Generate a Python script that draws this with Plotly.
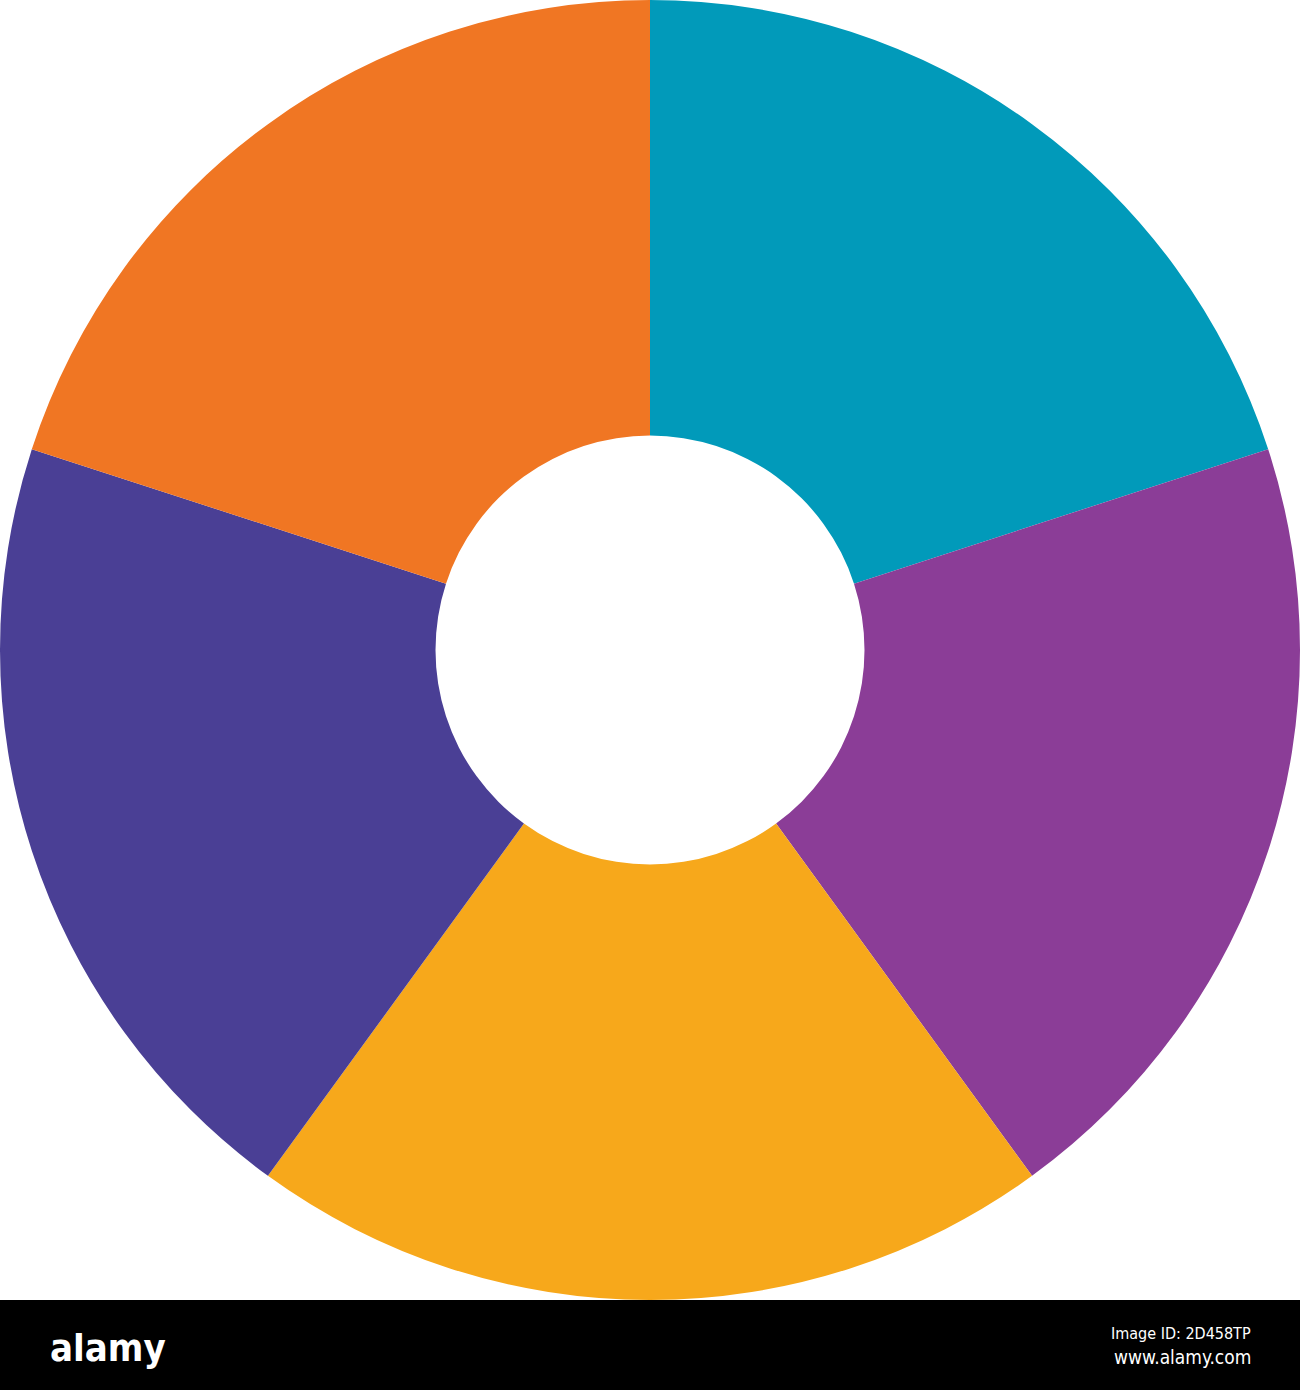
import plotly.graph_objects as go

# five equal segments, clockwise from 12 o'clock
segments = ["A", "B", "C", "D", "E"]
shares = [20, 20, 20, 20, 20]
colors = ["#019ABA", "#8B3D97", "#F7A81B", "#4A3F95", "#F07623"]

W, H = 1300, 1390
bar_h = 90
narrow = "DejaVu Sans Condensed, Liberation Sans Narrow, Noto Sans, sans-serif"

fig = go.Figure(go.Pie(
    labels=segments,
    values=shares,
    marker=dict(colors=colors, line=dict(width=0)),
    hole=0.33,
    sort=False,
    direction="clockwise",
    rotation=0,
    textinfo="none",
    hoverinfo="skip",
    showlegend=False,
    domain=dict(x=[0, 1], y=[bar_h / H, 1]),
))

# black footer strip
fig.add_shape(type="rect", xref="paper", yref="paper",
              x0=0, x1=1, y0=0, y1=bar_h / H,
              fillcolor="black", line=dict(width=0), layer="below")

fig.add_annotation(text="<b>alamy</b>", xref="paper", yref="paper",
                   x=48 / W, y=42 / H, xanchor="left", yanchor="middle",
                   showarrow=False,
                   font=dict(family=narrow, size=38, color="white"))
fig.add_annotation(text="Image ID: 2D458TP", xref="paper", yref="paper",
                   x=1253 / W, y=57 / H, xanchor="right", yanchor="middle",
                   showarrow=False,
                   font=dict(family=narrow, size=16, color="white"))
fig.add_annotation(text="www.alamy.com", xref="paper", yref="paper",
                   x=1253 / W, y=33 / H, xanchor="right", yanchor="middle",
                   showarrow=False,
                   font=dict(family=narrow, size=19, color="white"))

fig.update_layout(width=W, height=H, margin=dict(l=0, r=0, t=0, b=0),
                  paper_bgcolor="white", plot_bgcolor="white")

# drop the default page margin so the figure sits at the window corner
fig.write_html("out.html", config={"displayModeBar": False},
               post_script="document.body.style.margin='0';document.body.style.overflow='hidden';")
